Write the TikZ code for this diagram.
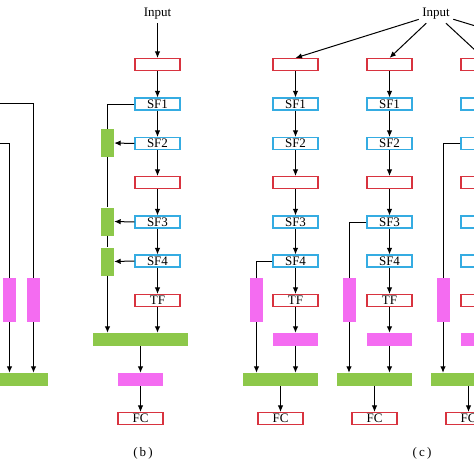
\documentclass[tikz,border=0pt]{standalone}
\usepackage{fontspec}
\setmainfont{Liberation Serif}
\usetikzlibrary{arrows.meta}
\usepackage{xcolor}

\definecolor{boxred}{HTML}{D8333F}
\definecolor{boxblue}{HTML}{35ACE2}
\definecolor{bargreen}{HTML}{8DC84A}
\definecolor{barpink}{HTML}{F46CF1}

\tikzset{
	redbox/.style={draw=boxred,fill=white,line width=1.1pt,minimum width=45pt,minimum height=12pt,inner sep=0pt},
	bluebox/.style={redbox,draw=boxblue},
	greenbar/.style={fill=bargreen,inner sep=0pt},
	vpink/.style={fill=barpink,inner sep=0pt,minimum width=13pt,minimum height=44pt},
	hpink/.style={fill=barpink,inner sep=0pt,minimum width=45pt,minimum height=13pt},
	wire/.style={line width=1pt,black},
	flow/.style={wire,-{Latex[length=6.5pt,width=5.5pt]}},
}

\begin{document}
\begin{tikzpicture}[x=1pt,y=-1pt,font=\fontsize{13}{15}\selectfont]
	\useasboundingbox (0,0) rectangle (474,474);
	\clip (0,0) rectangle (474,474);

	% column (a), cut by the left edge
	\coordinate (a1) at (0,103.5);
	\coordinate (a2) at (0,143);
	\node[vpink] (pa1) at (9.5,300) {};
	\node[vpink] (pa2) at (33.5,300) {};
	\node[greenbar,minimum width=96pt,minimum height=13pt] (ga) at (0,379.5) {};
	\draw[wire] (a1) -| (pa2.north);
	\draw[wire] (a2) -| (pa1.north);
	\draw[flow] (pa1.south) -- (pa1 |- ga.north);
	\draw[flow] (pa2.south) -- (pa2 |- ga.north);

	% column (b)
	\node (inb) at (157.5,14) {Input};
	\node[redbox] (rb1) at (157.5,64.5) {};
	\node[bluebox] (sfb1) at (157.5,104) {SF1};
	\node[bluebox] (sfb2) at (157.5,143.5) {SF2};
	\node[redbox] (rb2) at (157.5,182.5) {};
	\node[bluebox] (sfb3) at (157.5,222) {SF3};
	\node[bluebox] (sfb4) at (157.5,261) {SF4};
	\node[redbox] (tfb) at (157.5,300.5) {TF};
	\node[greenbar,minimum width=13pt,minimum height=28pt] (gb1) at (107.5,143) {};
	\node[greenbar,minimum width=13pt,minimum height=28pt] (gb2) at (107.5,221.5) {};
	\node[greenbar,minimum width=13pt,minimum height=28pt] (gb3) at (107.5,261.5) {};
	\node[greenbar,minimum width=95pt,minimum height=13pt] (gb) at (140.5,339.5) {};
	\node[hpink] (pb) at (140.5,379.5) {};
	\node[redbox] (fcb) at (140.5,418.5) {FC};
	\node (capb) at (143,453) {(\,b\,)};
	\draw[flow] (inb) -- (rb1);
	\draw[flow] (rb1) -- (sfb1);
	\draw[flow] (sfb1) -- (sfb2);
	\draw[flow] (sfb2) -- (rb2);
	\draw[flow] (rb2) -- (sfb3);
	\draw[flow] (sfb3) -- (sfb4);
	\draw[flow] (sfb4) -- (tfb);
	\draw[flow] (tfb) -- (tfb |- gb.north);
	\draw[wire] (sfb1.west) -| (gb1.north);
	\draw[flow] (sfb2.west) -- (gb1.east);
	\draw[flow] (sfb3.west) -- (gb2.east);
	\draw[flow] (sfb4.west) -- (gb3.east);
	\draw[wire] (gb1.south) -- (gb2.north);
	\draw[wire] (gb2.south) -- (gb3.north);
	\draw[flow] (gb3.south) -- (gb3 |- gb.north);
	\draw[flow] (gb) -- (pb);
	\draw[flow] (pb) -- (fcb);

	% column (c)
	\node (inc) at (436,14) {Input};
	\coordinate (c4) at (577.5,57);
	\node (capc) at (422,453) {(\,c\,)};

	%1st branch
	\node[redbox] (r11) at (295.5,64.5) {};
	\node[bluebox] (sf11) at (295.5,104) {SF1};
	\node[bluebox] (sf12) at (295.5,143.5) {SF2};
	\node[redbox] (r12) at (295.5,182.5) {};
	\node[bluebox] (sf13) at (295.5,222) {SF3};
	\node[bluebox] (sf14) at (295.5,261) {SF4};
	\node[redbox] (tf1) at (295.5,300.5) {TF};
	\node[hpink] (p1) at (295.5,339.5) {};
	\node[vpink] (v1) at (256.5,300) {};
	\node[greenbar,minimum width=75pt,minimum height=13pt] (g1) at (280.5,379.5) {};
	\node[redbox] (fc1) at (280.5,418.5) {FC};
	\draw[flow] (inc) -- (r11.north);
	\draw[flow] (r11) -- (sf11);
	\draw[flow] (sf11) -- (sf12);
	\draw[flow] (sf12) -- (r12);
	\draw[flow] (r12) -- (sf13);
	\draw[flow] (sf13) -- (sf14);
	\draw[flow] (sf14) -- (tf1);
	\draw[flow] (tf1) -- (p1);
	\draw[flow] (p1) -- (p1 |- g1.north);
	\draw[wire] (sf14.west) -| (v1.north);
	\draw[flow] (v1.south) -- (v1 |- g1.north);
	\draw[flow] (g1) -- (fc1);

	%2nd branch
	\node[redbox] (r21) at (389.5,64.5) {};
	\node[bluebox] (sf21) at (389.5,104) {SF1};
	\node[bluebox] (sf22) at (389.5,143.5) {SF2};
	\node[redbox] (r22) at (389.5,182.5) {};
	\node[bluebox] (sf23) at (389.5,222) {SF3};
	\node[bluebox] (sf24) at (389.5,261) {SF4};
	\node[redbox] (tf2) at (389.5,300.5) {TF};
	\node[hpink] (p2) at (389.5,339.5) {};
	\node[vpink] (v2) at (349,300) {};
	\node[greenbar,minimum width=75pt,minimum height=13pt] (g2) at (374.5,379.5) {};
	\node[redbox] (fc2) at (374.5,418.5) {FC};
	\draw[flow] (inc) -- (r21.north);
	\draw[flow] (r21) -- (sf21);
	\draw[flow] (sf21) -- (sf22);
	\draw[flow] (sf22) -- (r22);
	\draw[flow] (r22) -- (sf23);
	\draw[flow] (sf23) -- (sf24);
	\draw[flow] (sf24) -- (tf2);
	\draw[flow] (tf2) -- (p2);
	\draw[flow] (p2) -- (p2 |- g2.north);
	\draw[wire] (sf23.west) -| (v2.north);
	\draw[flow] (v2.south) -- (v2 |- g2.north);
	\draw[flow] (g2) -- (fc2);

	%3rd branch, cut by the right edge (only the box edges show)
	\node[redbox] (r31) at (483.5,64.5) {};
	\node[bluebox] (sf31) at (483.5,104) {};
	\node[bluebox] (sf32) at (483.5,143.5) {};
	\node[redbox] (r32) at (483.5,182.5) {};
	\node[bluebox] (sf33) at (483.5,222) {};
	\node[bluebox] (sf34) at (483.5,261) {};
	\node[redbox] (tf3) at (483.5,300.5) {};
	\node[hpink] (p3) at (483.5,339.5) {};
	\node[vpink] (v3) at (443,300) {};
	\node[greenbar,minimum width=75pt,minimum height=13pt] (g3) at (468.5,379.5) {};
	\node[redbox] (fc3) at (468.5,418.5) {FC};
	\draw[flow] (inc) -- (r31.north);
	\draw[flow] (inc) -- (c4);
	\draw[flow] (r31) -- (sf31);
	\draw[flow] (sf31) -- (sf32);
	\draw[flow] (sf32) -- (r32);
	\draw[flow] (r32) -- (sf33);
	\draw[flow] (sf33) -- (sf34);
	\draw[flow] (sf34) -- (tf3);
	\draw[flow] (tf3) -- (p3);
	\draw[flow] (p3) -- (p3 |- g3.north);
	\draw[wire] (sf32.west) -| (v3.north);
	\draw[flow] (v3.south) -- (v3 |- g3.north);
	\draw[flow] (g3) -- (fc3);

\end{tikzpicture}
\end{document}
